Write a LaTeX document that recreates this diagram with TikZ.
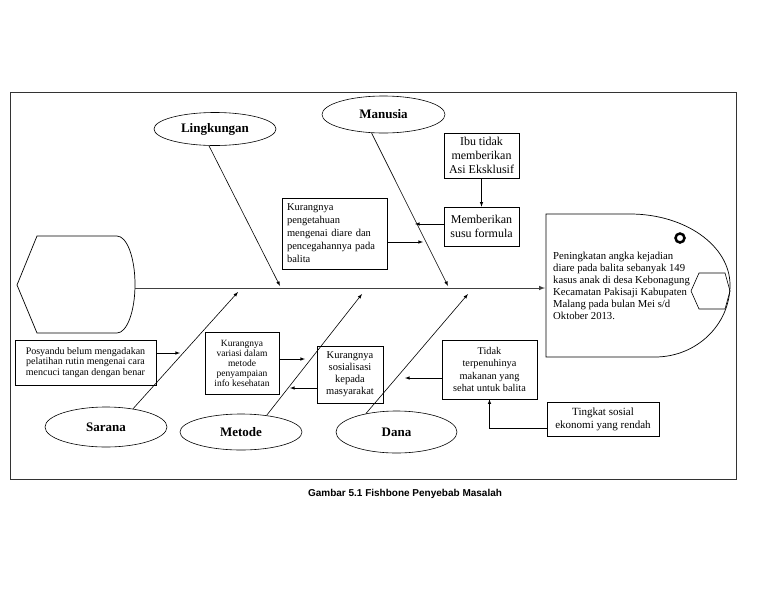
\documentclass[tikz,border=0pt]{standalone}
\usepackage{fontspec}
\setmainfont{Liberation Serif}
\newfontfamily\capfont{Liberation Sans}
\usetikzlibrary{shapes.geometric}

\begin{document}
\begin{tikzpicture}[x=1pt,y=-1pt,
    sebab/.style={draw,ellipse,inner sep=0pt,line width=0.6pt,font=\bfseries\fontsize{13}{15}\selectfont},
    kotak/.style={draw,rectangle,inner sep=3pt,line width=0.6pt,align=center},
    tulang/.style={-latex,line width=0.6pt},
    panah/.style={-latex,line width=0.6pt}]
    \useasboundingbox (0,0) rectangle (768,595);
    \draw [line width=0.9pt, black!80] (10,92) rectangle (736,479);
    % ekor dan kepala ikan
    \draw [line width=0.7pt] (17,285) -- (37,236) -- (117,236) arc[start angle=-90,end angle=90,x radius=18,y radius=48.5] -- (37,333) -- cycle;
    \draw [line width=0.7pt] (546,214) -- (630,214) arc[start angle=-90,end angle=0,x radius=100,y radius=71]
        arc[start angle=0,end angle=90,x radius=75,y radius=72] -- (546,357) -- cycle;
    \draw [line width=2.5pt] (680,238) circle[radius=4.5];
    \draw [line width=0.6pt] (691,291) -- (699,273) -- (725,273) -- (730,291) -- (725,309) -- (699,309) -- cycle;
    \node [anchor=west, inner sep=0pt, align=left, font=\fontsize{10.7}{12}\selectfont] (masalah) at (553,286)
        {Peningkatan angka kejadian\\ diare pada balita sebanyak 149\\ kasus anak di desa Kebonagung\\
         Kecamatan Pakisaji Kabupaten\\ Malang pada bulan Mei s/d\\ Oktober 2013.};
    \coordinate (ekor) at (135,288);
    \coordinate (kepala) at (545,288);
    \draw [panah, line width=1pt, black!75] (ekor) -- (kepala);
    % kategori
    \node [sebab, minimum width=122pt, minimum height=33pt] (lingk) at (215,129) {Lingkungan};
    \node [sebab, minimum width=123pt, minimum height=37pt] (manu) at (383.5,114.5) {Manusia};
    \node [sebab, minimum width=122pt, minimum height=40pt] (sarana) at (106,427) {Sarana};
    \node [sebab, minimum width=122pt, minimum height=36pt] (metode) at (241,432) {Metode};
    \node [sebab, minimum width=121pt, minimum height=42pt] (dana) at (396.5,432) {Dana};
    \coordinate (tL) at (280,286);  \coordinate (tM) at (448,286);
    \coordinate (tS) at (238,292);  \coordinate (tMt) at (362,294);  \coordinate (tD) at (468,294);
    \draw [tulang] (lingk.250) -- (tL);
    \draw [tulang] (manu.237) -- (tM);
    \draw [tulang] (sarana.34) -- (tS);
    \draw [tulang] (metode.33) -- (tMt);
    \draw [tulang] (dana.149) -- (tD);
    % penyebab
    \node [kotak, align=left, text width=95pt, inner sep=5pt, minimum height=71pt, font=\fontsize{10.5}{13}\selectfont] (tahu) at (334.5,233.5)
        {Kurangnya\\ pengetahuan\\ mengenai diare dan\\ pencegahannya pada\\ balita};
    \node [kotak, minimum width=75pt, minimum height=45pt, font=\fontsize{12}{14}\selectfont] (asi) at (481.5,155.5)
        {Ibu tidak\\ memberikan\\ Asi Eksklusif};
    \node [kotak, minimum width=75pt, minimum height=39pt, font=\fontsize{12}{14}\selectfont] (susu) at (481.5,226.5)
        {Memberikan\\ susu formula};
    \node [kotak, minimum width=141pt, minimum height=45pt, font=\fontsize{10}{10.7}\selectfont] (posy) at (85.5,362.5)
        {Posyandu belum mengadakan\\ pelatihan rutin mengenai cara\\ mencuci tangan dengan benar};
    \node [kotak, minimum width=74pt, minimum height=62pt, font=\fontsize{9.5}{10}\selectfont] (variasi) at (242,363)
        {Kurangnya\\ variasi dalam\\ metode\\ penyampaian\\ info kesehatan};
    \node [kotak, minimum width=66pt, minimum height=57pt, font=\fontsize{10.5}{12}\selectfont] (sosial) at (350,374.5)
        {Kurangnya\\ sosialisasi\\ kepada\\ masyarakat};
    \node [kotak, minimum width=95pt, minimum height=59pt, font=\fontsize{10.3}{12.3}\selectfont] (makan) at (489.5,369.5)
        {Tidak\\ terpenuhinya\\ makanan yang\\ sehat untuk balita};
    \node [kotak, minimum width=112pt, minimum height=34pt, font=\fontsize{11}{13}\selectfont] (ekonomi) at (603,419)
        {Tingkat sosial\\ ekonomi yang rendah};
    % panah ke tulang
    \coordinate (mA) at (423,242);  \coordinate (mB) at (415,224);
    \coordinate (sA) at (180,353);  \coordinate (mtA) at (305,359);
    \coordinate (mtB) at (290,388); \coordinate (dA) at (405,378);
    \draw [panah] (tahu.east |- mA) -- (mA);
    \draw [panah] (susu.west |- mB) -- (mB);
    \draw [panah] (asi) -- (susu);
    \draw [panah] (posy.east |- sA) -- (sA);
    \draw [panah] (variasi.east |- mtA) -- (mtA);
    \draw [panah] (sosial.west |- mtB) -- (mtB);
    \draw [panah] (makan.west |- dA) -- (dA);
    \draw [panah] ([yshift=-9pt]ekonomi.west) -| (makan.south);
    \node [font=\capfont\bfseries\fontsize{10}{12}\selectfont] (judul) at (405,494) {Gambar 5.1 Fishbone Penyebab Masalah};
\end{tikzpicture}
\end{document}
